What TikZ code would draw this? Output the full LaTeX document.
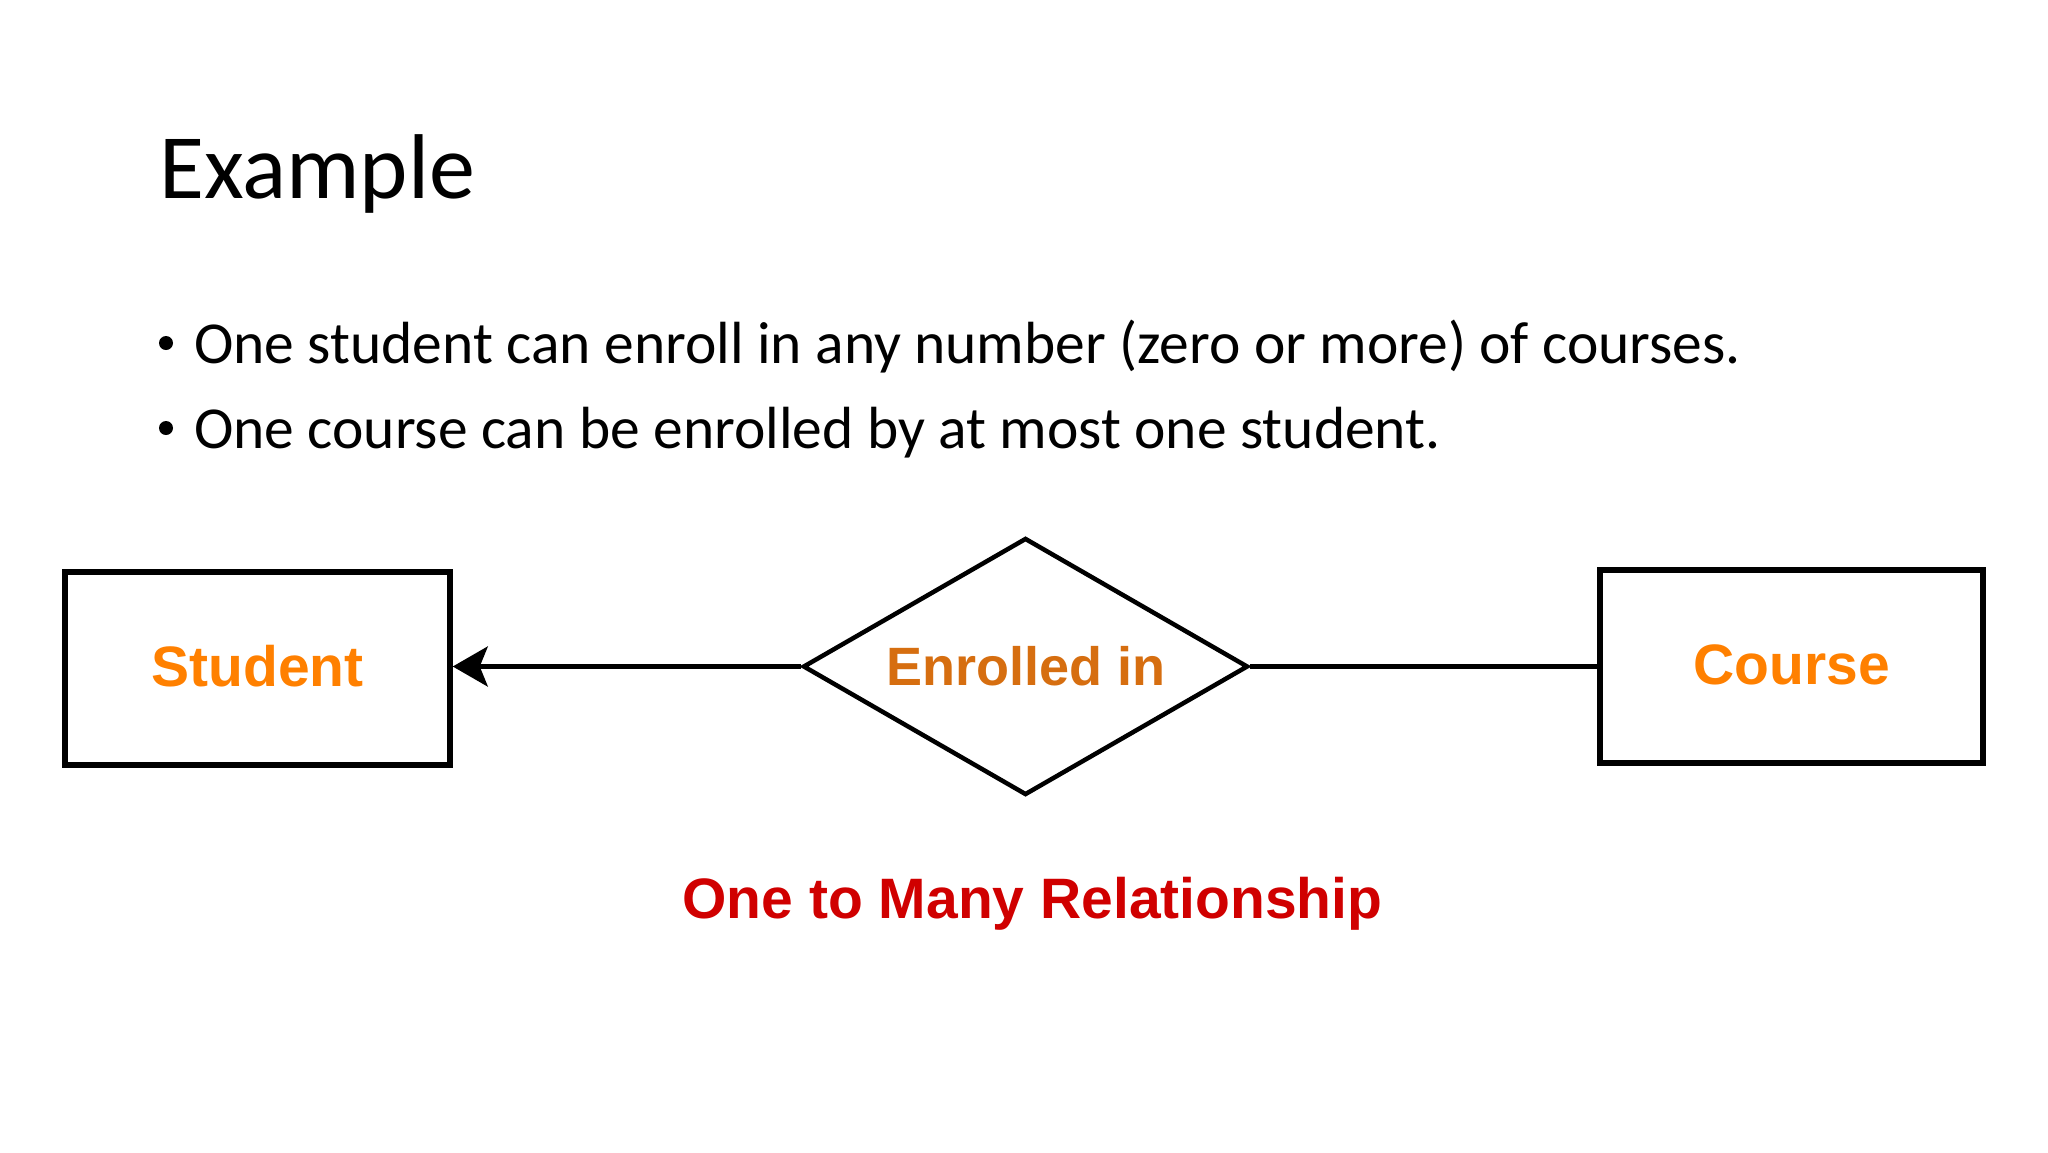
\documentclass[tikz,border=0pt]{standalone}
\usepackage{fontspec}
\setmainfont{Carlito}
\newfontfamily\arialbold{Liberation Sans}[BoldFont={Liberation Sans Bold}]
\usetikzlibrary{shapes.geometric,arrows.meta}
\definecolor{entorange}{RGB}{255,128,0}
\definecolor{relorange}{RGB}{214,110,16}
\definecolor{capred}{RGB}{208,0,0}
\tikzset{
  entity/.style={draw=black, line width=5.5pt, rectangle, minimum width=385pt,
    minimum height=193pt, inner sep=0pt, text=entorange,
    font=\arialbold\bfseries\fontsize{57}{60}\selectfont, text height=35pt, text depth=0pt},
  relation/.style={draw=black, line width=4.5pt, diamond, aspect=1.73,
    minimum width=445pt, minimum height=257pt, inner sep=0pt, text=relorange,
    font=\arialbold\bfseries\fontsize{54}{58}\selectfont},
  conn/.style={draw=black, line width=4.5pt},
  bulletdot/.style={circle, fill=black, inner sep=0pt, minimum size=14pt},
  bodytext/.style={anchor=base west, inner sep=0pt, font=\fontsize{59.5}{66}\selectfont},
}
\begin{document}
\begin{tikzpicture}[x=1pt,y=-1pt]
\fill[white] (0,0) rectangle (2048,1152);
\useasboundingbox (0,0) rectangle (2048,1152);

\node[anchor=base west, inner sep=0pt, font=\fontsize{92}{100}\selectfont] (title) at (159,198) {Example};

\node[bulletdot] (b1) at (166,343) {};
\node[bodytext] (t1) at (194,363) {One student can enroll in any number (zero or more) of courses.};
\node[bulletdot] (b2) at (166,428) {};
\node[bodytext] (t2) at (194,448) {One course can be enrolled by at most one student.};

\node[entity] (student) at (257.5,668.5) {Student};
\node[relation] (enrol) at (1025.5,666.5) {Enrolled in};
\node[entity, minimum width=383pt] (course) at (1791.5,666.5) {Course};

\draw[conn, -{Stealth[length=35pt, width=40pt, inset=8pt]}] (enrol.west) -- (student.east |- enrol.west);
\draw[conn] (enrol.east) -- (course.west |- enrol.east);

\node[anchor=base, inner sep=0pt, text=capred, font=\arialbold\bfseries\fontsize{57}{60}\selectfont] (caption) at (1032.5,918) {One to Many Relationship};
\end{tikzpicture}
\end{document}
